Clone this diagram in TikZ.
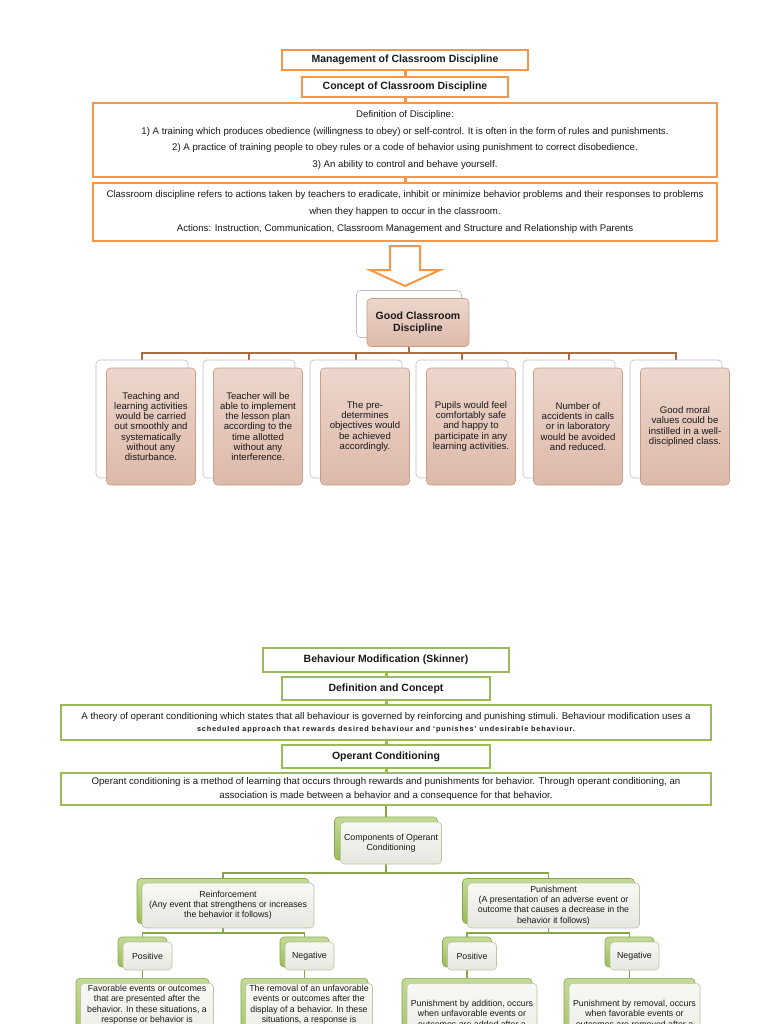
\documentclass[tikz,border=0pt]{standalone}
\usepackage{fontspec}
\setmainfont{Liberation Sans}
\usetikzlibrary{backgrounds}
\definecolor{orng}{HTML}{F79646}
\definecolor{brln}{HTML}{A86F42}
\definecolor{brA}{HTML}{EDD6CC}
\definecolor{brB}{HTML}{DDB9A9}
\definecolor{brbd}{HTML}{C79E88}
\definecolor{grn}{HTML}{9BBB59}
\definecolor{grnD}{HTML}{86A64A}
\definecolor{grnL}{HTML}{C6DA98}
\definecolor{gfA}{HTML}{F8F8F5}
\definecolor{gfB}{HTML}{E6E7DF}
\definecolor{gfbd}{HTML}{B9C79A}
\definecolor{txt}{HTML}{1A1A1A}
\begin{document}
\begin{tikzpicture}[x=1pt,y=-1pt,
  obox/.style={draw=orng, line width=2.2pt, fill=white, inner sep=0pt, text=txt},
  gbox/.style={draw=grn, line width=2pt, fill=white, inner sep=0pt, text=txt},
  oline/.style={draw=orng, line width=3pt},
  gline/.style={draw=grn, line width=3pt},
  bline/.style={draw=brln, line width=1.6pt},
  gcon/.style={draw=grnD, line width=1.6pt},
  bback/.style={draw=black!25, fill=white, rounded corners=4pt, line width=0.6pt, inner sep=0pt},
  bfront/.style={draw=brbd, top color=brA, bottom color=brB, rounded corners=4pt, line width=0.6pt, inner sep=1pt, align=center, text=txt},
  gback/.style={draw=grnD, top color=grnL, bottom color=grn, rounded corners=4pt, line width=0.6pt, inner sep=0pt},
  gfront/.style={draw=gfbd, top color=gfA, bottom color=gfB, rounded corners=4pt, line width=0.6pt, inner sep=1pt, align=center, text=txt},
  ttl/.style={font=\fontsize{10.5}{12}\selectfont\bfseries},
  ctext/.style={font=\fontsize{9.6}{10.3}\selectfont},
  gtext/.style={font=\fontsize{8.8}{10.2}\selectfont},
  ltext/.style={font=\fontsize{8.8}{10.5}\selectfont, align=center, inner sep=0pt, text=txt, anchor=north},
]
\path[use as bounding box] (0,0) rectangle (768,1024);
\clip (0,0) rectangle (768,1024);

% ---------- top (orange) ----------
\node[obox, ttl, minimum width=246, minimum height=20] (t1) at (405,60) {Management of Classroom Discipline};
\node[obox, ttl, minimum width=206, minimum height=20] (t2) at (405,87) {Concept of Classroom Discipline};
\node[obox, minimum width=624, minimum height=74, align=center, font=\fontsize{9.65}{16.4}\selectfont] (t3) at (405,140) {Definition of Discipline:\\1) A training which produces obedience (willingness to obey) or self-control. It is often in the form of rules and punishments.\\2) A practice of training people to obey rules or a code of behavior using punishment to correct disobedience.\\3) An ability to control and behave yourself.};
\node[obox, minimum width=624, minimum height=58, align=center, font=\fontsize{9.65}{17}\selectfont] (t4) at (405,212) {Classroom discipline refers to actions taken by teachers to eradicate, inhibit or minimize behavior problems and their responses to problems\\when they happen to occur in the classroom.\\Actions: Instruction, Communication, Classroom Management and Structure and Relationship with Parents};

\draw[orng, line width=2pt, fill=white, line join=miter] (390,246) -- (420,246) -- (420,270) -- (440,270) -- (405,286) -- (370,270) -- (390,270) -- cycle;

\node[bback, minimum width=105, minimum height=47] (gcb) at (409,314) {};
\node[bfront, minimum width=102, minimum height=48, font=\fontsize{10.5}{12}\selectfont\bfseries] (gcf) at (418,322.5) {Good Classroom\\Discipline};

\node[bback, minimum width=92, minimum height=118] (c1b) at (142,419) {};
\node[bfront, ctext, minimum width=89, minimum height=117] (c1) at (151,426.5) {Teaching and\\learning activities\\would be carried\\out smoothly and\\systematically\\without any\\disturbance.};
\node[bback, minimum width=92, minimum height=118] (c2b) at (249,419) {};
\node[bfront, ctext, minimum width=89, minimum height=117] (c2) at (258,426.5) {Teacher will be\\able to implement\\the lesson plan\\according to the\\time allotted\\without any\\interference.};
\node[bback, minimum width=92, minimum height=118] (c3b) at (356,419) {};
\node[bfront, ctext, minimum width=89, minimum height=117] (c3) at (365,426.5) {The pre-\\determines\\objectives would\\be achieved\\accordingly.};
\node[bback, minimum width=92, minimum height=118] (c4b) at (462,419) {};
\node[bfront, ctext, minimum width=89, minimum height=117] (c4) at (471,426.5) {Pupils would feel\\comfortably safe\\and happy to\\participate in any\\learning activities.};
\node[bback, minimum width=92, minimum height=118] (c5b) at (569,419) {};
\node[bfront, ctext, minimum width=89, minimum height=117] (c5) at (578,426.5) {Number of\\accidents in calls\\or in laboratory\\would be avoided\\and reduced.};
\node[bback, minimum width=92, minimum height=118] (c6b) at (676,419) {};
\node[bfront, ctext, minimum width=89, minimum height=117] (c6) at (685,426.5) {Good moral\\values could be\\instilled in a well-\\disciplined class.};
\coordinate (bar) at (409,353);

% ---------- bottom (green) ----------
\node[gbox, ttl, minimum width=246, minimum height=24] (g1) at (386,660) {Behaviour Modification (Skinner)};
\node[gbox, ttl, minimum width=208, minimum height=23] (g2) at (386,688.5) {Definition and Concept};
\node[gbox, minimum width=650, minimum height=35, align=center, font=\fontsize{9.65}{12}\selectfont] (g3) at (386,722.5) {A theory of operant conditioning which states that all behaviour is governed by reinforcing and punishing stimuli. Behaviour modification uses a\\{\fontsize{7.3}{12}\selectfont\bfseries\addfontfeatures{LetterSpace=11}scheduled approach that rewards desired behaviour and `punishes' undesirable behaviour.}};
\node[gbox, ttl, minimum width=208, minimum height=23] (g4) at (386,756.5) {Operant Conditioning};
\node[gbox, minimum width=650, minimum height=32, align=center, font=\fontsize{9.65}{14}\selectfont] (g5) at (386,789) {Operant conditioning is a method of learning that occurs through rewards and punishments for behavior. Through operant conditioning, an\\association is made between a behavior and a consequence for that behavior.};

\node[gback, minimum width=103, minimum height=43] (cob) at (386,838.5) {};
\node[gfront, gtext, minimum width=101, minimum height=42] (co) at (391,843) {Components of Operant\\Conditioning};
\coordinate (cbar) at (386,873);

\node[gback, minimum width=172, minimum height=45] (rb) at (223,901) {};
\node[gfront, gtext, minimum width=172, minimum height=45] (r) at (228,905.5) {Reinforcement\\(Any event that strengthens or increases\\the behavior it follows)};
\node[gback, minimum width=172, minimum height=45] (pb) at (548.5,901) {};
\node[gfront, gtext, minimum width=172, minimum height=45] (p) at (553.5,905.5) {Punishment\\(A presentation of an adverse event or\\outcome that causes a decrease in the\\behavior it follows)};
\coordinate (rbar) at (223,933);
\coordinate (pbar) at (548.5,933);

\node[gback, minimum width=49, minimum height=30] (rpb) at (142.5,952) {};
\node[gfront, gtext, minimum width=49, minimum height=28] (rp) at (147.5,956) {Positive};
\node[gback, minimum width=49, minimum height=30] (rnb) at (304.5,952) {};
\node[gfront, gtext, minimum width=49, minimum height=28] (rn) at (309.5,956) {Negative};
\node[gback, minimum width=49, minimum height=30] (ppb) at (467,952) {};
\node[gfront, gtext, minimum width=49, minimum height=28] (pp) at (472,956) {Positive};
\node[gback, minimum width=49, minimum height=30] (pnb) at (629.5,952) {};
\node[gfront, gtext, minimum width=49, minimum height=28] (pn) at (634.5,956) {Negative};

\node[gback, minimum width=133, minimum height=80, anchor=north] (l1b) at (142.5,978) {};
\node[gfront, minimum width=133, minimum height=80, anchor=north] (l1) at (147,983) {};
\node[ltext] (l1t) at (147,984.5) {Favorable events or outcomes\\that are presented after the\\behavior. In these situations, a\\response or behavior is};
\node[gback, minimum width=127, minimum height=80, anchor=north] (l2b) at (304.5,978) {};
\node[gfront, minimum width=127, minimum height=80, anchor=north] (l2) at (309,983) {};
\node[ltext] (l2t) at (309,984.5) {The removal of an unfavorable\\events or outcomes after the\\display of a behavior. In these\\situations, a response is};
\node[gback, minimum width=130, minimum height=80, anchor=north] (l3b) at (467,978) {};
\node[gfront, minimum width=130, minimum height=80, anchor=north] (l3) at (472,983) {};
\node[ltext] (l3t) at (472,999.5) {Punishment by addition, occurs\\when unfavorable events or\\outcomes are added after a};
\node[gback, minimum width=131, minimum height=80, anchor=north] (l4b) at (629.5,978) {};
\node[gfront, minimum width=131, minimum height=80, anchor=north] (l4) at (634.5,983) {};
\node[ltext] (l4t) at (634.5,999.5) {Punishment by removal, occurs\\when favorable events or\\outcomes are removed after a};

% ---------- connectors ----------
\begin{scope}[on background layer]
\fill[white] (0,0) rectangle (768,1024);
\draw[oline] (t1) -- (t2);
\draw[oline] (t2) -- (t3);
\draw[oline] (t3) -- (t4);
\draw[bline] (gcb.south) -- (bar);
\foreach \c in {c1b,c2b,c3b,c4b,c5b,c6b} \draw[bline] (bar) -| (\c.north);
\draw[gline] (g1) -- (g2);
\draw[gline] (g2) -- (g3);
\draw[gline] (g3) -- (g4);
\draw[gline] (g4) -- (g5);
\draw[gcon] (g5.south) -- (cob.north);
\draw[gcon] (cob.south) -- (cbar);
\draw[gcon] (cbar) -| (rb.north);
\draw[gcon] (cbar) -| (pb.north);
\draw[gcon] (rb.south) -- (rbar);
\draw[gcon] (rbar) -| (rpb.north);
\draw[gcon] (rbar) -| (rnb.north);
\draw[gcon] (pb.south) -- (pbar);
\draw[gcon] (pbar) -| (ppb.north);
\draw[gcon] (pbar) -| (pnb.north);
\draw[gcon] (rpb.south) -- (l1b.north);
\draw[gcon] (rnb.south) -- (l2b.north);
\draw[gcon] (ppb.south) -- (l3b.north);
\draw[gcon] (pnb.south) -- (l4b.north);
\end{scope}
\end{tikzpicture}
\end{document}
